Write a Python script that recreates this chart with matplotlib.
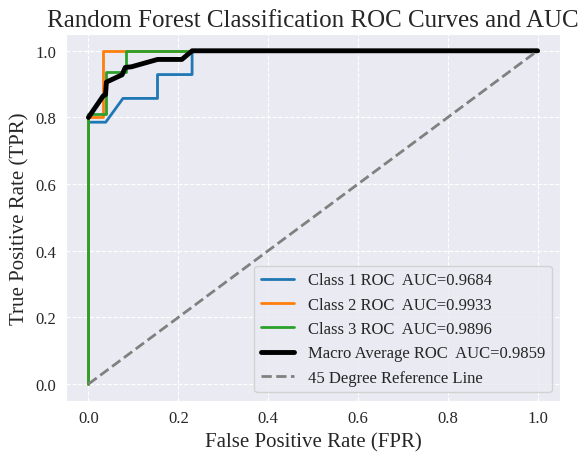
import numpy as np
import matplotlib
matplotlib.use("Agg")
import matplotlib.pyplot as plt
import seaborn as sns

# ROC points
fpr_c1 = [0, 0, 0.0385, 0.0769, 0.1538, 0.1538, 0.2308, 0.2308, 1]
tpr_c1 = [0, 0.7857, 0.7857, 0.8571, 0.8571, 0.9286, 0.9286, 1, 1]
fpr_c2 = [0, 0, 0.0333, 0.0333, 1]
tpr_c2 = [0, 0.8, 0.8, 1, 1]
fpr_c3 = [0, 0, 0.04, 0.04, 0.083, 0.083, 1]
tpr_c3 = [0, 0.81, 0.81, 0.935, 0.935, 1, 1]
fpr_macro = [0, 0.033, 0.038, 0.04, 0.075, 0.082, 0.096, 0.154, 0.208, 0.231, 1]
tpr_macro = [0.8, 0.865, 0.868, 0.906, 0.928, 0.95, 0.952, 0.974, 0.974, 1.0, 1.0]

auc_vals = [0.9684, 0.9933, 0.9896]
auc_macro = 0.9859

sns.set_style("darkgrid", {"grid.linestyle": "--"})
plt.rcParams['font.family'] = ['Liberation Serif', 'DejaVu Serif']

fig = plt.figure(figsize=(5.86, 4.56), dpi=100)
ax = fig.add_axes([0.1126, 0.119, 0.843, 0.804])

colors = ['#1f77b4', '#ff7f0e', '#2ca02c']
curves = [(fpr_c1, tpr_c1), (fpr_c2, tpr_c2), (fpr_c3, tpr_c3)]
for i, (f, t) in enumerate(curves):
    ax.plot(f, t, color=colors[i], lw=2,
            label='Class %d ROC  AUC=%.4f' % (i + 1, auc_vals[i]))
ax.plot(fpr_macro, tpr_macro, color='black', lw=3.5,
        label='Macro Average ROC  AUC=%.4f' % auc_macro)
ax.plot([0, 1], [0, 1], color='gray', ls='--', lw=2, label='45 Degree Reference Line')

ax.set_title('Random Forest Classification ROC Curves and AUC', fontsize=18)
ax.set_xlabel('False Positive Rate (FPR)', fontsize=15, labelpad=4)
ax.set_ylabel('True Positive Rate (TPR)', fontsize=15)
ax.tick_params(labelsize=12)
ax.legend(loc='lower right', fontsize=12)

fig.savefig('out.png', dpi=100)
